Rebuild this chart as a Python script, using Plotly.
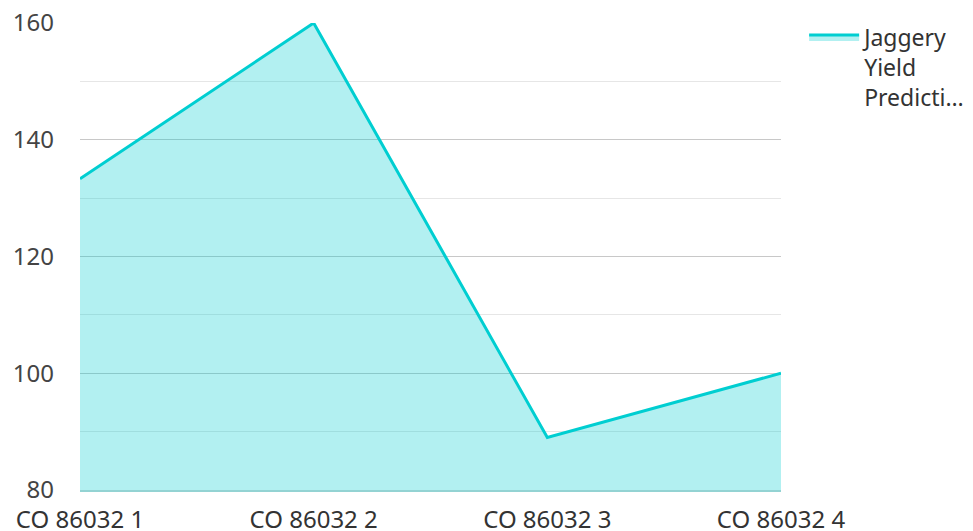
import plotly.graph_objects as go

categories = ["CO 86032 1", "CO 86032 2", "CO 86032 3", "CO 86032 4"]
yield_values = [133.3, 160, 89, 100]
series_name = "Jaggery<br>Yield<br>Predicti…"
y_ticks = [80, 100, 120, 140, 160]

font_family = "Noto Sans, Open Sans, sans-serif"

fig = go.Figure()
fig.add_trace(go.Scatter(
    x=categories,
    y=yield_values,
    mode="lines",
    name=series_name,
    line=dict(color="#00CED1", width=3),
    fill="tozeroy",
    fillcolor="rgba(0,206,209,0.3)",
    showlegend=True,
))

# page body has an 8px default margin, so the figure is sized to compensate
fig.update_layout(
    width=965,
    height=523,
    margin=dict(l=72, r=192, t=15, b=41, autoexpand=False),
    paper_bgcolor="white",
    plot_bgcolor="white",
    font=dict(family=font_family, size=24, color="#333333"),
    xaxis=dict(
        type="category",
        range=[0, 3],
        automargin=False,
        showgrid=False,
        zeroline=False,
        showline=True,
        linecolor="#93d3d3",
        linewidth=2,
        ticks="",
        ticklabelstandoff=7,
        ticklabeloverflow="allow",
        tickfont=dict(size=24, color="#333333"),
    ),
    yaxis=dict(
        range=[80, 160],
        tickvals=y_ticks,
        automargin=False,
        showgrid=True,
        gridcolor="#c8c8c8",
        gridwidth=1,
        zeroline=False,
        showline=False,
        ticks="",
        ticklabelstandoff=25,
        ticklabeloverflow="allow",
        tickfont=dict(size=24, color="#444444"),
        minor=dict(dtick=10, tick0=80, showgrid=True, gridcolor="#e6e6e6", gridwidth=1),
    ),
    legend=dict(
        x=1.033,
        xanchor="left",
        y=1.016,
        yanchor="top",
        valign="top",
        font=dict(size=23, color="#333333"),
        itemwidth=50,
        bgcolor="rgba(0,0,0,0)",
    ),
)

fig.write_html("out.html")
